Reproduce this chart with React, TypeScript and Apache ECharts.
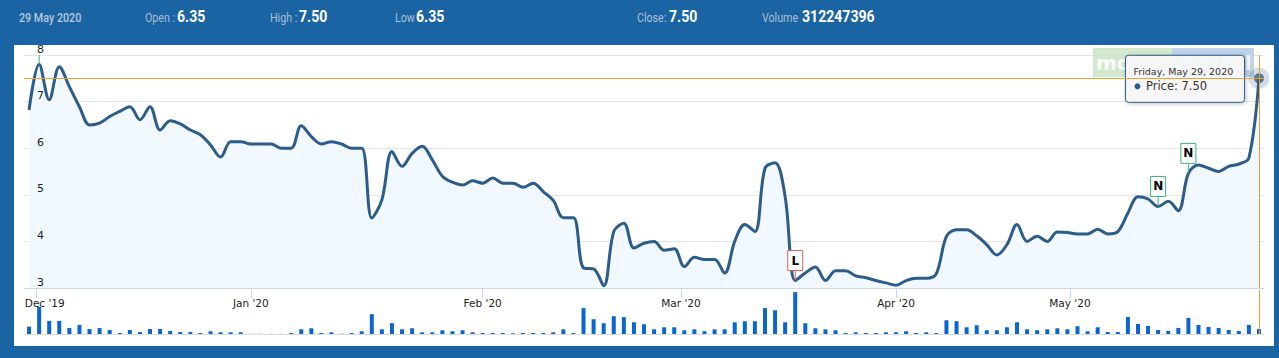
import React, { useEffect, useRef } from "react";
import * as echarts from "echarts";

// ---- trading days (Indian market) ----
const nov2019 = [29];
const dec2019 = [2, 3, 4, 5, 6, 9, 10, 11, 12, 13, 16, 17, 18, 19, 20, 23, 24, 26, 27, 30, 31];
const jan2020 = [1, 2, 3, 6, 7, 8, 9, 10, 13, 14, 15, 16, 17, 20, 21, 22, 23, 24, 27, 28, 29, 30, 31];
const feb2020 = [1, 3, 4, 5, 6, 7, 10, 11, 12, 13, 14, 17, 18, 19, 20, 24, 25, 26, 27, 28];
const mar2020 = [2, 3, 4, 5, 6, 9, 11, 12, 13, 16, 17, 18, 19, 20, 23, 24, 25, 26, 27, 30, 31];
const apr2020 = [1, 3, 7, 8, 9, 13, 15, 16, 17, 20, 21, 22, 23, 24, 27, 28, 29, 30];
const may2020 = [4, 5, 6, 7, 8, 11, 12, 13, 14, 15, 18, 19, 20, 21, 22, 26, 27, 28, 29];

// ---- closing prices ----
const prices = [
  6.82, 7.8, 7.04, 7.75, 7.32, 6.89, 6.5, 6.54, 6.68, 6.79,
  6.89, 6.61, 6.89, 6.39, 6.59, 6.52, 6.39, 6.29, 6.07, 5.81,
  6.14, 6.14, 6.09, 6.09, 6.09, 6.0, 6.0, 6.48, 6.25, 6.09,
  6.14, 6.09, 6.0, 6.0, 4.5, 4.89, 5.93, 5.61, 5.89, 6.04,
  5.75, 5.4, 5.27, 5.21, 5.3, 5.25, 5.36, 5.25, 5.25, 5.16,
  5.25, 5.07, 4.88, 4.51, 4.51, 3.43, 3.41, 3.05, 4.21, 4.39,
  3.86, 3.96, 4.0, 3.81, 3.84, 3.46, 3.66, 3.61, 3.61, 3.32,
  4.0, 4.36, 4.21, 5.57, 5.69, 4.96, 3.16, 3.32, 3.45, 3.16,
  3.37, 3.37, 3.26, 3.22, 3.16, 3.11, 3.06, 3.16, 3.21, 3.21,
  3.31, 4.11, 4.25, 4.25, 4.12, 3.93, 3.71, 3.93, 4.36, 4.0,
  4.11, 4.0, 4.2, 4.19, 4.16, 4.16, 4.26, 4.16, 4.21, 4.61,
  4.96, 4.91, 4.75, 4.86, 4.66, 5.46, 5.64, 5.57, 5.5, 5.61,
  5.66, 5.79, 7.5,
];

// ---- volumes (millions of shares) ----
const volumesM = [
  455, 1680, 810, 810, 375, 560, 310, 375, 250, 62,
  250, 125, 310, 310, 190, 125, 125, 62, 168, 105,
  105, 105, 10, 10, 10, 10, 62, 290, 355, 62,
  105, 15, 62, 168, 1225, 290, 665, 290, 355, 105,
  105, 230, 168, 230, 105, 62, 62, 62, 45, 62,
  62, 62, 105, 290, 62, 1600, 915, 665, 1100, 1040,
  725, 600, 290, 415, 415, 230, 290, 168, 290, 290,
  725, 790, 790, 1600, 1470, 725, 2590, 665, 355, 290,
  230, 62, 105, 62, 62, 105, 105, 168, 62, 105,
  62, 850, 790, 415, 540, 230, 230, 415, 725, 290,
  230, 290, 355, 290, 480, 168, 415, 125, 125, 1055,
  620, 500, 250, 185, 375, 995, 560, 435, 375, 250,
  185, 560, 312.247396,
];

// ---- flags ----
const flagIndex = [1, 76, 112, 115];
const flagLetters = ["H", "L", "N", "N"];
const flagKinds = ["high", "low", "news", "news"];

// ---- header quote ----
const openPrice = 6.35;
const highPrice = 7.5;
const lowPrice = 6.35;

const MONTHS = ["Jan", "Feb", "Mar", "Apr", "May", "Jun", "Jul", "Aug", "Sep", "Oct", "Nov", "Dec"];
const WEEKDAYS = ["Sunday", "Monday", "Tuesday", "Wednesday", "Thursday", "Friday", "Saturday"];

const months: [number, number, number[]][] = [
  [2019, 11, nov2019], [2019, 12, dec2019], [2020, 1, jan2020], [2020, 2, feb2020],
  [2020, 3, mar2020], [2020, 4, apr2020], [2020, 5, may2020],
];
const dates: number[] = [];
months.forEach(([y, m, days]) => days.forEach((d) => dates.push(Date.UTC(y, m - 1, d))));

// month ticks on the ordinal axis (interpolated by time like an ordinal stock axis)
const monthTicks: { pos: number; label: string }[] = [];
for (let i = 1; i < dates.length; i++) {
  const a = new Date(dates[i - 1]);
  const b = new Date(dates[i]);
  if (a.getUTCMonth() !== b.getUTCMonth()) {
    const first = Date.UTC(b.getUTCFullYear(), b.getUTCMonth(), 1);
    const pos = i - 1 + (first - dates[i - 1]) / (dates[i] - dates[i - 1]);
    monthTicks.push({ pos, label: `${MONTHS[b.getUTCMonth()]} '${String(b.getUTCFullYear()).slice(2)}` });
  }
}

const priceData = prices.map((p, i) => [i, p]);
const volData = volumesM.map((v, i) => [i, v]);
const lastIdx = prices.length - 1;
const lastPrice = prices[lastIdx];
const lastVolume = Math.round(volumesM[lastIdx] * 1e6);
const lastDate = new Date(dates[lastIdx]);

const BLUE = "#1a64a4";
const LINE = "#2b5c8a";
const ORANGE = "#f0a030";
const AXIS_FONT = "DejaVu Sans";

export default function App() {
  const ref = useRef<HTMLDivElement>(null);

  useEffect(() => {
    const chart = echarts.init(ref.current!, null, { renderer: "svg" });

    const option: any = {
      animation: false,
      backgroundColor: "#ffffff",
      grid: [
        { left: 24, right: 15, top: 55, height: 233 },
        { left: 24, right: 15, top: 290, height: 44 },
      ],
      xAxis: [
        {
          type: "value",
          gridIndex: 0,
          min: -0.5,
          max: lastIdx + 0.5,
          splitLine: { show: false },
          axisLine: { show: true, lineStyle: { color: "#ccd6eb", width: 1 } },
          axisTick: {
            show: true,
            customValues: monthTicks.map((t) => t.pos),
            length: 10,
            lineStyle: { color: "#ccd6eb" },
          },
          axisLabel: {
            show: true,
            customValues: monthTicks.map((t) => t.pos),
            margin: 9,
            color: "#222",
            fontFamily: AXIS_FONT,
            fontSize: 10.5,
            formatter: (v: number) => {
              const k = monthTicks.findIndex((t) => Math.abs(t.pos - v) < 1e-6);
              if (k < 0) return "";
              return k === 0 ? `{first|${monthTicks[k].label}}` : monthTicks[k].label;
            },
            rich: {
              first: {
                color: "#222",
                fontFamily: AXIS_FONT,
                fontSize: 10.5,
                padding: [0, 0, 0, 18],
              },
            },
          },
          z: 10,
        },
        {
          type: "value",
          gridIndex: 1,
          min: -0.5,
          max: lastIdx + 0.5,
          splitLine: { show: false },
          axisLine: { show: true, lineStyle: { color: "#dddddd", width: 1 } },
          axisTick: { show: false },
          axisLabel: { show: false },
        },
      ],
      yAxis: [
        {
          type: "value",
          gridIndex: 0,
          position: "left",
          min: 3,
          max: 8,
          interval: 1,
          axisLine: { show: false },
          axisTick: { show: false },
          axisLabel: { show: false },
          splitLine: { show: true, lineStyle: { color: "#e6e6e6", width: 1 } },
          z: 0,
        },
        {
          type: "value",
          gridIndex: 1,
          min: 0,
          max: 2720,
          show: false,
          splitLine: { show: false },
        },
        {
          type: "value",
          gridIndex: 0,
          position: "left",
          min: 3,
          max: 8,
          interval: 1,
          axisLine: { show: false },
          axisTick: { show: false },
          splitLine: { show: false },
          axisLabel: {
            inside: true,
            margin: 13,
            align: "left",
            verticalAlign: "bottom",
            color: "#222",
            fontFamily: AXIS_FONT,
            fontSize: 11,
            lineHeight: 12,
          },
          z: 10,
        },
      ],
      series: [
        {
          name: "Price",
          type: "line",
          xAxisIndex: 0,
          yAxisIndex: 0,
          data: priceData,
          smooth: 0.35,
          showSymbol: false,
          lineStyle: { color: LINE, width: 3 },
          itemStyle: { color: LINE },
          areaStyle: { color: "#f1f8ff", opacity: 1 },
          z: 3,
          markLine: {
            silent: true,
            symbol: ["none", "none"],
            label: { show: false },
            lineStyle: { color: ORANGE, width: 1, type: "solid" },
            data: [{ yAxis: lastPrice }, { xAxis: lastIdx }],
          },
        },
        {
          name: "halo",
          type: "scatter",
          xAxisIndex: 0,
          yAxisIndex: 0,
          data: [[lastIdx, lastPrice]],
          symbolSize: 21,
          itemStyle: { color: "rgba(43,92,138,0.25)" },
          z: 2,
          silent: true,
        },
        {
          name: "last",
          type: "scatter",
          xAxisIndex: 0,
          yAxisIndex: 0,
          data: [[lastIdx, lastPrice]],
          symbolSize: 10,
          itemStyle: { color: LINE },
          z: 2,
          silent: true,
        },
        {
          name: "flags",
          type: "custom",
          xAxisIndex: 0,
          yAxisIndex: 0,
          data: flagIndex.map((idx, k) => [idx, prices[idx], k]),
          z: 6,
          renderItem: (params: any, api: any) => {
            const p = api.coord([api.value(0), api.value(1)]);
            const k = api.value(2);
            const color = flagKinds[k] === "low" ? "#d9605a" : "#3fae7c";
            const top = params.coordSys.y;
            const children: any[] = [
              {
                type: "line",
                shape: { x1: p[0], y1: p[1], x2: p[0], y2: Math.max(p[1] - 10, top) },
                style: { stroke: color, lineWidth: 1 },
              },
            ];
            if (p[1] - 30 >= top) {
              children.push(
                {
                  type: "rect",
                  shape: { x: p[0] - 7.5, y: p[1] - 30, width: 15, height: 20 },
                  style: { fill: "#ffffff", stroke: color, lineWidth: 1 },
                },
                {
                  type: "text",
                  x: p[0],
                  y: p[1] - 20,
                  style: {
                    text: flagLetters[k],
                    fill: "#000",
                    font: `bold 12px "${AXIS_FONT}"`,
                    textAlign: "center",
                    textVerticalAlign: "middle",
                    align: "center",
                    verticalAlign: "middle",
                  },
                }
              );
            }
            return { type: "group", children };
          },
        },
        {
          name: "Volume",
          type: "bar",
          xAxisIndex: 1,
          yAxisIndex: 1,
          data: volData,
          barWidth: 4,
          itemStyle: { color: "#0a66cc" },
          markLine: {
            silent: true,
            symbol: ["none", "none"],
            label: { show: false },
            lineStyle: { color: ORANGE, width: 1, type: "solid" },
            data: [{ xAxis: lastIdx }],
          },
        },
      ],
    };
    chart.setOption(option);

    const [px, py] = chart.convertToPixel({ gridIndex: 0 }, [lastIdx, lastPrice]) as number[];

    const labelFont = "13px Roboto";
    const valueFont = "bold 16px Roboto";
    const labelColor = "#aebfd6";
    const headerItems: [string, string, number, number][] = [
      ["Open :", openPrice.toFixed(2), 145, 177],
      ["High :", highPrice.toFixed(2), 270, 299],
      ["Low", lowPrice.toFixed(2), 395, 416],
      ["Close:", lastPrice.toFixed(2), 637, 669],
      ["Volume", String(lastVolume), 762, 802],
    ];
    const headerDate = `${lastDate.getUTCDate()} ${MONTHS[lastDate.getUTCMonth()]} ${lastDate.getUTCFullYear()}`;
    const tipDate = `${WEEKDAYS[lastDate.getUTCDay()]}, ${MONTHS[lastDate.getUTCMonth()]} ${lastDate.getUTCDate()}, ${lastDate.getUTCFullYear()}`;

    const elements: any[] = [
      // blue frame
      { type: "rect", shape: { x: 0, y: 0, width: 1279, height: 45 }, style: { fill: BLUE }, z: 50 },
      { type: "rect", shape: { x: 0, y: 0, width: 14, height: 358 }, style: { fill: BLUE }, z: 50 },
      { type: "rect", shape: { x: 1274, y: 0, width: 5, height: 358 }, style: { fill: BLUE }, z: 50 },
      { type: "rect", shape: { x: 0, y: 346, width: 1279, height: 12 }, style: { fill: BLUE }, z: 50 },
      // header
      {
        type: "text", x: 19, y: 18, scaleX: 0.86, z: 51,
        style: { text: headerDate, fill: "#b9c8dc", font: "500 12.5px Roboto", textVerticalAlign: "middle", verticalAlign: "middle" },
      },
      // watermark (logo)
      {
        type: "group", z: 1,
        children: [
          { type: "rect", shape: { x: 1093, y: 48, width: 79, height: 29 }, style: { fill: "rgba(196,226,190,0.75)" } },
          { type: "rect", shape: { x: 1172, y: 48, width: 82, height: 29 }, style: { fill: "rgba(170,198,225,0.75)" } },
          {
            type: "text", x: 1096, y: 63,
            style: { text: "moneycontrol", fill: "rgba(255,255,255,0.9)", font: `bold 20px "${AXIS_FONT}"`, textVerticalAlign: "middle", verticalAlign: "middle" },
          },
        ],
      },
      // tooltip
      {
        type: "group", z: 100,
        children: [
          {
            type: "rect",
            shape: { x: px - 133.5, y: py - 23, width: 119, height: 47, r: 3 },
            style: {
              fill: "rgba(247,247,247,0.97)", stroke: LINE, lineWidth: 1,
              shadowBlur: 4, shadowOffsetX: 1, shadowOffsetY: 1, shadowColor: "rgba(0,0,0,0.25)",
            },
          },
          {
            type: "text", x: px - 125.5, y: py - 7,
            style: { text: tipDate, fill: "#333", font: `9.5px "${AXIS_FONT}"`, textVerticalAlign: "middle", verticalAlign: "middle" },
          },
          { type: "circle", shape: { cx: px - 121.5, cy: py + 8, r: 3 }, style: { fill: LINE } },
          {
            type: "text", x: px - 113, y: py + 8,
            style: { text: `Price: ${lastPrice.toFixed(2)}`, fill: "#333", font: `11.5px "${AXIS_FONT}"`, textVerticalAlign: "middle", verticalAlign: "middle" },
          },
        ],
      },
    ];
    headerItems.forEach(([lab, val, lx, vx]) => {
      elements.push({
        type: "text", x: lx, y: 18, scaleX: 0.82, z: 51,
        style: { text: lab, fill: labelColor, font: labelFont, textVerticalAlign: "middle", verticalAlign: "middle" },
      });
      elements.push({
        type: "text", x: vx, y: 17, scaleX: 0.88, z: 51,
        style: { text: val, fill: "#ffffff", font: valueFont, textVerticalAlign: "middle", verticalAlign: "middle" },
      });
    });

    chart.setOption({ graphic: { elements } });

    return () => chart.dispose();
  }, []);

  return (
    <div
      ref={ref}
      style={{ position: "fixed", left: 0, top: 0, width: 1279, height: 358 }}
    />
  );
}
